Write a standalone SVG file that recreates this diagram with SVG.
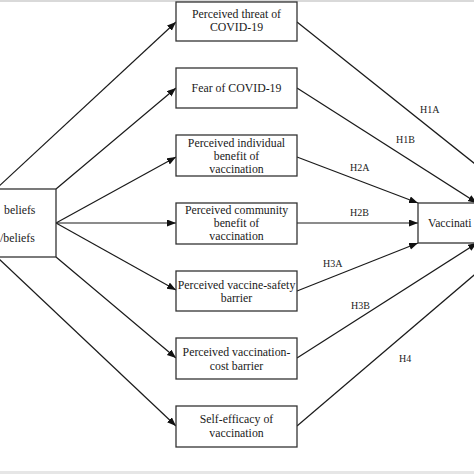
<svg xmlns="http://www.w3.org/2000/svg" width="474" height="474" viewBox="0 0 474 474">
<defs>
<marker id="ah" markerWidth="10" markerHeight="8" refX="9" refY="3.5" orient="auto" markerUnits="userSpaceOnUse">
<path d="M0,0 L9,3.5 L0,7 z" fill="#111"/>
</marker>
<style>
.box{fill:#fff;stroke:#333;stroke-width:1.3}
.t{font-family:"Liberation Serif","Times New Roman",serif;font-size:11.8px;fill:#1a1a1a;text-anchor:middle}
.tl{font-family:"Liberation Serif","Times New Roman",serif;font-size:11.8px;fill:#1a1a1a}
.lab{font-family:"Liberation Serif","Times New Roman",serif;font-size:10px;fill:#222}
.c{stroke:#1a1a1a;stroke-width:1.2;fill:none}
.a{marker-end:url(#ah)}
</style>
</defs>
<rect x="0" y="0" width="474" height="474" fill="#fff"/>
<rect x="0" y="0" width="474" height="2" fill="#d9d9d9"/>
<rect x="0" y="471" width="474" height="3" fill="#e6e6e6"/>
<g id="connectors">
<line class="c a" x1="-4" y1="189" x2="176" y2="22"/>
<line class="c a" x1="56" y1="189" x2="176" y2="88"/>
<line class="c a" x1="56" y1="223" x2="176" y2="157"/>
<line class="c a" x1="56" y1="223" x2="176" y2="223"/>
<line class="c a" x1="56" y1="223" x2="176" y2="290"/>
<line class="c a" x1="56" y1="257" x2="176" y2="358"/>
<line class="c a" x1="-3" y1="257" x2="176" y2="426"/>
<line class="c a" x1="297" y1="22" x2="524" y2="203"/>
<line class="c a" x1="297" y1="88" x2="477" y2="203"/>
<line class="c a" x1="297" y1="157" x2="418" y2="203"/>
<line class="c a" x1="297" y1="223" x2="418" y2="223"/>
<line class="c a" x1="297" y1="291" x2="418" y2="243"/>
<line class="c a" x1="297" y1="358" x2="477" y2="243"/>
<line class="c a" x1="297" y1="426" x2="500" y2="253"/>
<text class="lab" x="420" y="113">H1A</text>
<text class="lab" x="396" y="143">H1B</text>
<text class="lab" x="350" y="171">H2A</text>
<text class="lab" x="350" y="216">H2B</text>
<text class="lab" x="323" y="267">H3A</text>
<text class="lab" x="351" y="309">H3B</text>
<text class="lab" x="399" y="362">H4</text>
</g>
<g id="beliefs">
<rect class="box" x="-10" y="189" width="66" height="68"/>
<text class="tl" x="4" y="214">beliefs</text>
<text class="tl" x="0" y="241.5">/beliefs</text>
</g>
<g id="threat">
<rect class="box" x="176" y="2" width="121" height="39"/>
<text class="t" x="236.5" y="17.5">Perceived threat of</text>
<text class="t" x="236.5" y="31">COVID-19</text>
</g>
<g id="fear">
<rect class="box" x="176" y="68" width="121" height="40"/>
<text class="t" x="236.5" y="92">Fear of COVID-19</text>
</g>
<g id="individual">
<rect class="box" x="176" y="135" width="121" height="41"/>
<text class="t" x="236.5" y="146.5">Perceived individual</text>
<text class="t" x="236.5" y="160">benefit of</text>
<text class="t" x="236.5" y="173">vaccination</text>
</g>
<g id="community">
<rect class="box" x="176" y="203" width="121" height="41"/>
<text class="t" x="236.5" y="213.5">Perceived community</text>
<text class="t" x="236.5" y="226.5">benefit of</text>
<text class="t" x="236.5" y="239.5">vaccination</text>
</g>
<g id="safety">
<rect class="box" x="176" y="271" width="121" height="40"/>
<text class="t" x="236.5" y="289">Perceived vaccine-safety</text>
<text class="t" x="236.5" y="302">barrier</text>
</g>
<g id="cost">
<rect class="box" x="176" y="338" width="121" height="41"/>
<text class="t" x="236.5" y="356">Perceived vaccination-</text>
<text class="t" x="236.5" y="369.5">cost barrier</text>
</g>
<g id="selfefficacy">
<rect class="box" x="176" y="406" width="121" height="41"/>
<text class="t" x="236.5" y="423">Self-efficacy of</text>
<text class="t" x="236.5" y="436.5">vaccination</text>
</g>
<g id="vaccination">
<rect class="box" x="418" y="203" width="70" height="40"/>
<text class="tl" x="428" y="227" style="font-size:11.7px">Vaccinati</text>
</g>
</svg>
